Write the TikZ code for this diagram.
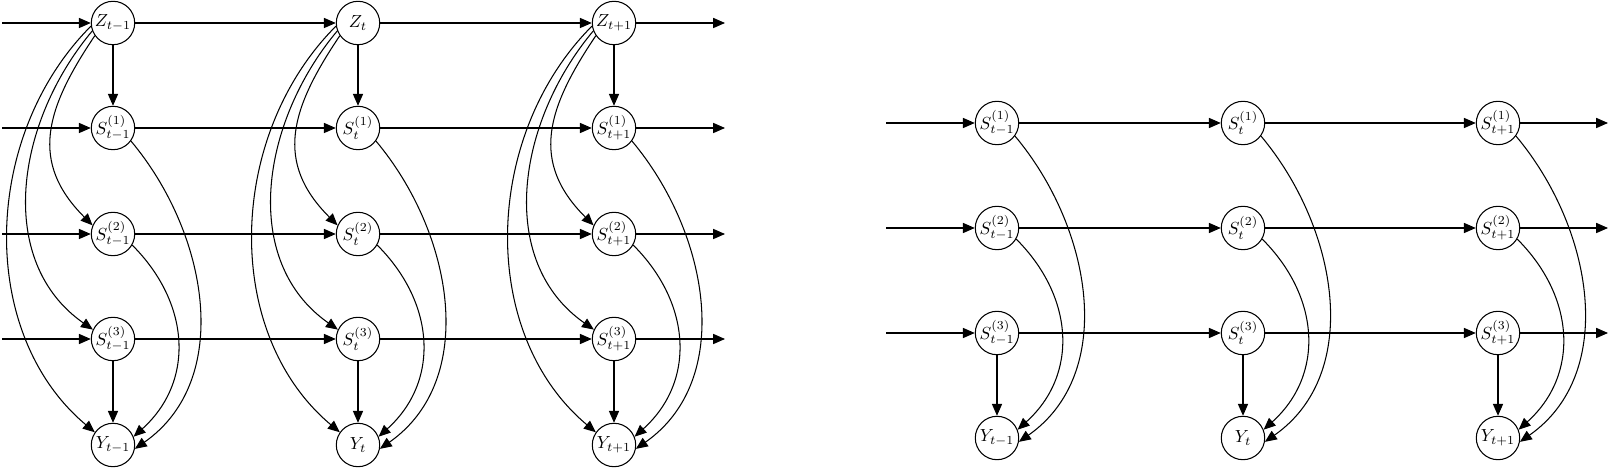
\documentclass[tikz,border=0pt]{standalone}
\usetikzlibrary{arrows.meta}
\begin{document}
\begin{tikzpicture}[x=0.5714pt,y=-0.5714pt,
  var/.style={circle,draw,line width=0.6pt,minimum size=24.8pt,inner sep=0pt},
  arr/.style={line width=0.6pt,-{Triangle[length=6.8pt,width=5.8pt]}}]
\useasboundingbox (0,0) rectangle (1610,470);
% left diagram nodes
\foreach \i/\x/\t in {1/113/{t-1},2/358/t,3/614/{t+1}} {
  \node[var] (LZ\i) at (\x,23) {$Z_{\t}$};
  \node[var] (LA\i) at (\x,128) {$S^{(1)}_{\t}$};
  \node[var] (LB\i) at (\x,234) {$S^{(2)}_{\t}$};
  \node[var] (LC\i) at (\x,339) {$S^{(3)}_{\t}$};
  \node[var] (LY\i) at (\x,445) {$Y_{\t}$};
}
% right diagram nodes
\foreach \i/\x/\t in {1/997/{t-1},2/1243/t,3/1498/{t+1}} {
  \node[var] (RA\i) at (\x,123) {$S^{(1)}_{\t}$};
  \node[var] (RB\i) at (\x,228) {$S^{(2)}_{\t}$};
  \node[var] (RC\i) at (\x,333) {$S^{(3)}_{\t}$};
  \node[var] (RY\i) at (\x,438) {$Y_{\t}$};
}
% left horizontal chains
\foreach \r/\y in {LZ/23,LA/128,LB/234,LC/339} {
  \coordinate (\r in) at (2,\y);
  \coordinate (\r out) at (725,\y);
  \draw[arr] (\r in) -- (\r1);
  \draw[arr] (\r1) -- (\r2);
  \draw[arr] (\r2) -- (\r3);
  \draw[arr] (\r3) -- (\r out);
}
% right horizontal chains
\foreach \r/\y in {RA/123,RB/228,RC/333} {
  \coordinate (\r in) at (886,\y);
  \coordinate (\r out) at (1608,\y);
  \draw[arr] (\r in) -- (\r1);
  \draw[arr] (\r1) -- (\r2);
  \draw[arr] (\r2) -- (\r3);
  \draw[arr] (\r3) -- (\r out);
}
% left vertical and curved links
\foreach \i in {1,2,3} {
  \draw[arr] (LZ\i) -- (LA\i);
  \draw[arr] (LC\i) -- (LY\i);
  \draw[arr] (LZ\i.215) to[out=236,in=135,looseness=1.2] (LB\i.157);
  \draw[arr] (LZ\i.201) to[out=230,in=145,looseness=1.02] (LC\i.155);
  \draw[arr] (LZ\i.188) to[out=225,in=140,looseness=0.97] (LY\i.145);
  \draw[arr] (LA\i.-36) to[out=-50,in=35,looseness=1.0] (LY\i.-10);
  \draw[arr] (LB\i.-30) to[out=-45,in=42,looseness=1.1] (LY\i.22);
}
% right vertical and curved links
\foreach \i in {1,2,3} {
  \draw[arr] (RC\i) -- (RY\i);
  \draw[arr] (RA\i.-36) to[out=-50,in=35,looseness=1.0] (RY\i.-10);
  \draw[arr] (RB\i.-30) to[out=-45,in=42,looseness=1.1] (RY\i.22);
}
\end{tikzpicture}
\end{document}
